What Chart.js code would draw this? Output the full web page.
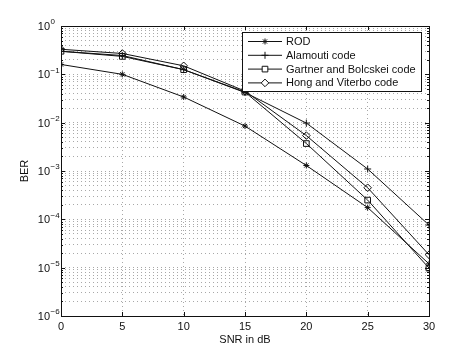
<!DOCTYPE html>
<html><head><meta charset="utf-8">
<script src="https://cdn.jsdelivr.net/npm/chart.js@4/dist/chart.umd.min.js"></script>
<style>html,body{margin:0;padding:0;background:#fff;overflow:hidden}#wrap{width:474px;height:355px}</style>
</head><body><div id="wrap"><canvas id="c" width="474" height="355"></canvas></div>
<script>
// ---- data ----
const snr = [0, 5, 10, 15, 20, 25, 30];
const rod      = [0.16, 0.10, 0.034, 0.0085, 0.0013, 1.75e-4, 1.2e-5];
const alamouti = [0.30, 0.245, 0.125, 0.042, 0.0098, 1.1e-3, 7.6e-5];
const gartner  = [0.30, 0.235, 0.125, 0.043, 0.0037, 2.5e-4, 9.8e-6];
const hong     = [0.33, 0.27, 0.15, 0.045, 0.0054, 4.5e-4, 1.85e-5];
const seriesNames = ['ROD', 'Alamouti code', 'Gartner and Bolcskei code', 'Hong and Viterbo code'];
const xTicks = [0, 5, 10, 15, 20, 25, 30];
const yExponents = [0, -1, -2, -3, -4, -5, -6];
const xLabel = 'SNR in dB';
const yLabel = 'BER';

const FONT = '"Liberation Sans", Arial, Helvetica, sans-serif';
const INK = '#111';

// log grid values (1..9 x 10^e)
const yGridValues = [];
for (let e = -6; e < 0; e++) for (let k = 1; k <= 9; k++) yGridValues.push(Number((k * Math.pow(10, e)).toPrecision(3)));
yGridValues.push(1);

function mk(label, data, style, r) {
  return {
    label, data: snr.map((x, i) => ({x, y: data[i]})),
    borderColor: INK, borderWidth: 1, backgroundColor: 'rgba(0,0,0,0)',
    pointStyle: style, pointRadius: r, pointHoverRadius: r,
    pointBorderColor: INK, pointBackgroundColor: 'rgba(0,0,0,0)', pointBorderWidth: 1,
    tension: 0, fill: false
  };
}

const datasets = [
  mk(seriesNames[0], rod, 'star', 3),
  mk(seriesNames[1], alamouti, 'cross', 3.5),
  mk(seriesNames[2], gartner, 'rect', 4),
  mk(seriesNames[3], hong, 'rectRot', 3.8)
];

const decorPlugin = {
  id: 'decor',
  afterDraw(chart) {
    const ctx = chart.ctx, a = chart.chartArea;
    const xs = chart.scales.x, ys = chart.scales.y;
    ctx.save();
    // frame
    ctx.strokeStyle = INK; ctx.lineWidth = 1;
    ctx.strokeRect(Math.round(a.left) + 0.5, Math.round(a.top) + 0.5, Math.round(a.right - a.left), Math.round(a.bottom - a.top));
    // x ticks
    ctx.beginPath();
    xTicks.forEach(v => {
      const px = Math.round(xs.getPixelForValue(v)) + 0.5;
      ctx.moveTo(px, a.bottom); ctx.lineTo(px, a.bottom - 4);
      ctx.moveTo(px, a.top); ctx.lineTo(px, a.top + 4);
    });
    // y ticks
    yGridValues.forEach(v => {
      const py = Math.round(ys.getPixelForValue(v)) + 0.5;
      const major = Math.abs(Math.log10(v) - Math.round(Math.log10(v))) < 1e-9;
      const L = major ? 4 : 2;
      ctx.moveTo(a.left, py); ctx.lineTo(a.left + L, py);
      ctx.moveTo(a.right, py); ctx.lineTo(a.right - L, py);
    });
    ctx.stroke();
    // tick labels
    ctx.fillStyle = INK;
    ctx.font = '11px ' + FONT;
    ctx.textAlign = 'center'; ctx.textBaseline = 'middle';
    xTicks.forEach(v => ctx.fillText(String(v), xs.getPixelForValue(v), a.bottom + 11));
    yExponents.forEach(e => {
      const py = ys.getPixelForValue(Math.pow(10, e));
      ctx.font = '11px ' + FONT;
      ctx.textAlign = 'right'; ctx.textBaseline = 'middle';
      ctx.fillText('10', a.left - 11, py + 1);
      ctx.font = '8px ' + FONT;
      ctx.textAlign = 'left';
      ctx.fillText(e === 0 ? '0' : '\u2212' + Math.abs(e), a.left - 10.5, py - 4);
    });
    // axis titles
    ctx.font = '11px ' + FONT;
    ctx.textAlign = 'center'; ctx.textBaseline = 'middle';
    ctx.fillText(xLabel, (a.left + a.right) / 2, a.bottom + 24);
    ctx.save();
    ctx.translate(25, (a.top + a.bottom) / 2);
    ctx.rotate(-Math.PI / 2);
    ctx.fillText(yLabel, 0, 0);
    ctx.restore();
    // legend
    const lx = 242, ly = 32, lw = 179, lh = 59;
    ctx.fillStyle = '#fff';
    ctx.fillRect(lx, ly, lw, lh);
    ctx.strokeStyle = INK; ctx.lineWidth = 1;
    ctx.strokeRect(lx + 0.5, ly + 0.5, lw, lh);
    chart.data.datasets.forEach((ds, i) => {
      const y = ly + 9.5 + i * 13.8;
      ctx.strokeStyle = INK; ctx.lineWidth = 1;
      ctx.beginPath(); ctx.moveTo(248, y); ctx.lineTo(282, y); ctx.stroke();
      ctx.fillStyle = '#fff';
      Chart.helpers.drawPoint(ctx, {pointStyle: ds.pointStyle, radius: ds.pointRadius, rotation: 0, borderWidth: 1}, 265, y);
      ctx.fillStyle = INK;
      ctx.font = '11px ' + FONT;
      ctx.textAlign = 'left'; ctx.textBaseline = 'middle';
      ctx.fillText(ds.label, 286, y + 0.5);
    });
    ctx.restore();
  }
};

new Chart(document.getElementById('c'), {
  type: 'line',
  data: { datasets },
  options: {
    responsive: false, animation: false, devicePixelRatio: 1,
    layout: { padding: { left: 61, right: 45, top: 26, bottom: 39 } },
    plugins: { legend: { display: false }, tooltip: { enabled: false }, title: { display: false } },
    scales: {
      x: {
        type: 'linear', min: 0, max: 30,
        afterFit(s) { s.height = 0; },
        afterBuildTicks(s) { s.ticks = xTicks.map(v => ({value: v})); },
        ticks: { display: false },
        grid: { color: '#a8a8a8', lineWidth: 1, drawTicks: false },
        border: { display: false, dash: [1, 3] }
      },
      y: {
        type: 'logarithmic', min: 1e-6, max: 1,
        afterFit(s) { s.width = 0; },
        afterBuildTicks(s) { s.ticks = yGridValues.map(v => ({value: v})); },
        ticks: { display: false, autoSkip: false },
        grid: { color: '#a8a8a8', lineWidth: 1, drawTicks: false },
        border: { display: false, dash: [1, 3] }
      }
    }
  },
  plugins: [decorPlugin]
});
</script>
</body></html>
